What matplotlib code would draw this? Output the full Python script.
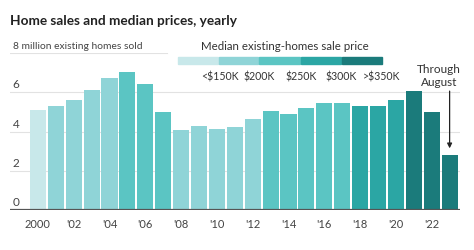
import matplotlib
matplotlib.use("Agg")
import matplotlib.pyplot as plt

# Data
years = list(range(2000, 2024))
sales = [5.12, 5.31, 5.60, 6.12, 6.73, 7.04, 6.43, 4.98, 4.07, 4.30, 4.15, 4.22,
         4.63, 5.04, 4.90, 5.20, 5.44, 5.47, 5.29, 5.29, 5.60, 6.07, 4.98, 2.79]
# price bucket per year (0: <150K ... 4: >350K)
bucket = [0, 1, 1, 1, 1, 2, 2, 2, 1, 1, 1, 1,
          1, 2, 2, 2, 2, 2, 3, 3, 3, 4, 4, 4]
tick_years = [2000, 2002, 2004, 2006, 2008, 2010, 2012, 2014, 2016, 2018, 2020, 2022]
tick_labels = ["2000", "'02", "'04", "'06", "'08", "'10", "'12", "'14", "'16", "'18", "'20", "'22"]
legend_labels = ["<$150K", "$200K", "$250K", "$300K", ">$350K"]
palette = ["#c8e8ea", "#8fd4d7", "#5bc5c3", "#2ba6a4", "#1b7b7b"]

W, H = 474, 251
plt.rcParams['font.family'] = ['Lato', 'DejaVu Sans']
fig = plt.figure(figsize=(W / 100, H / 100), dpi=100)


def box(x0, y0, x1, y1):
    # pixel box (top-left origin) -> figure fraction
    return [x0 / W, 1 - y1 / H, (x1 - x0) / W, (y1 - y0) / H]


ax = fig.add_axes(box(10, 54, 460, 211))
x = [y - 2000 for y in years]
ax.bar(x, sales, width=0.9, color=[palette[b] for b in bucket], zorder=2)
ax.set_xlim(-1.56, 23.58)
ax.set_ylim(0, 8)

for v in [2, 4, 6]:
    ax.axhline(v, color="#e2e2e2", lw=0.8, zorder=1)
ax.axhline(8, xmin=0, xmax=0.35, color="#e2e2e2", lw=0.8, zorder=1)
ax.axhline(0, color="#555555", lw=1.6, zorder=3)

for s in ax.spines.values():
    s.set_visible(False)
ax.set_yticks([])
ax.set_xticks([t - 2000 for t in tick_years])
ax.set_xticklabels(tick_labels, fontsize=8, color="#444444")
ax.tick_params(axis="x", length=0, pad=6)

ylabels = ["0", "2", "4", "6", "8 million existing homes sold"]
for v, lab in zip([0, 2, 4, 6, 8], ylabels):
    ax.text(-1.4, v + 0.15, lab, fontsize=7.4 if v == 8 else 8.5,
            color="#444444", ha="left", va="bottom")

# Through August annotation
ax.annotate("", xy=(23.0, 3.0), xytext=(23.0, 6.2),
            arrowprops=dict(arrowstyle="-|>", color="#222222", lw=0.9,
                            mutation_scale=7))
fig.text(439 / W, 1 - 76 / H, "Through\nAugust", fontsize=8.5, color="#333333",
         ha="center", va="center", linespacing=1.2)

# Title
fig.text(10 / W, 1 - 21 / H, "Home sales and median prices, yearly",
         fontsize=9.8, fontweight="bold", color="#222222", ha="left", va="center")

# Legend
fig.text(285 / W, 1 - 47 / H, "Median existing-homes sale price", fontsize=8.3,
         color="#333333", ha="center", va="center")
lx = [178, 219, 259, 301, 342, 383]
for i in range(5):
    fig.patches.append(plt.Rectangle((lx[i] / W, 1 - 64.5 / H), (lx[i + 1] - lx[i] - 1.5) / W,
                                     6.5 / H, transform=fig.transFigure,
                                     color=palette[i], figure=fig))
lab_x = [220, 259, 301, 341, 382]
for px, lab in zip(lab_x, legend_labels):
    fig.text(px / W, 1 - 77 / H, lab, fontsize=7.6, color="#333333",
             ha="center", va="center")

fig.savefig("out.png", dpi=100, facecolor="white")
